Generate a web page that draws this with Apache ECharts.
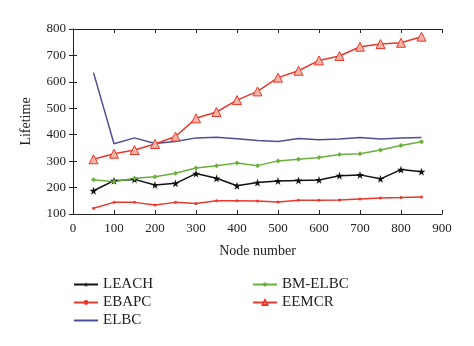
<!DOCTYPE html>
<html>
<head>
<meta charset="utf-8">
<script src="https://cdn.jsdelivr.net/npm/echarts@6/dist/echarts.min.js"></script>
<style>
  html, body { margin: 0; padding: 0; background: #fff; }
  #chart { width: 474px; height: 346px; }
</style>
</head>
<body>
<div id="chart"></div>
<script>
// node counts on the x axis
const nodes = [50, 100, 150, 200, 250, 300, 350, 400, 450, 500, 550, 600, 650, 700, 750, 800, 850];

// lifetime values
const leach  = [188, 226, 231, 210, 216, 253, 235, 207, 219, 225, 227, 229, 245, 248, 233, 268, 260];
const ebapc  = [122, 144, 144, 134, 144, 140, 150, 150, 149, 145, 152, 152, 153, 157, 161, 162, 164];
const elbc   = [635, 366, 388, 367, 374, 388, 390, 385, 378, 374, 386, 381, 384, 389, 384, 388, 389];
const bmElbc = [230, 222, 235, 241, 254, 274, 283, 293, 283, 301, 307, 314, 325, 328, 342, 359, 373];
const eemcr  = [307, 328, 342, 365, 393, 462, 486, 531, 564, 616, 642, 681, 698, 733, 743, 748, 771];

const FONT = 'Liberation Serif';
const star = 'path://M50,0 L61,35 L98,35 L68,57 L79,91 L50,70 L21,91 L32,57 L2,35 L39,35 Z';

const pairs = vals => nodes.map((n, i) => [n, vals[i]]);

const chart = echarts.init(document.getElementById('chart'));

const boxAxis = {
  axisLine: { show: true, lineStyle: { color: '#222', width: 1 } },
  axisTick: { show: true, inside: true, length: 4, lineStyle: { color: '#222' } },
  splitLine: { show: false }
};

const legendBase = {
  orient: 'vertical',
  top: 272,
  itemWidth: 24, itemHeight: 6, itemGap: 3,
  textStyle: { fontFamily: FONT, fontSize: 15, color: '#222' }
};

const option = {
  animation: false,
  grid: { left: 73, top: 29, right: 32, bottom: 132 },
  legend: [
    Object.assign({
      left: 68,
      data: ['LEACH', 'EBAPC', { name: 'ELBC', itemStyle: { opacity: 0 } }]
    }, legendBase),
    Object.assign({
      left: 247,
      data: ['BM-ELBC', 'EEMCR']
    }, legendBase)
  ],
  xAxis: [
    Object.assign({
      type: 'value', min: 0, max: 900, interval: 100,
      name: 'Node number', nameLocation: 'middle', nameGap: 30,
      nameTextStyle: { fontFamily: FONT, fontSize: 14, color: '#222' },
      axisLabel: { fontFamily: FONT, fontSize: 13, color: '#222', margin: 8 }
    }, boxAxis),
    Object.assign({
      type: 'value', min: 0, max: 900, interval: 100, position: 'top',
      axisLabel: { show: false }
    }, boxAxis)
  ],
  yAxis: [
    Object.assign({
      type: 'value', min: 100, max: 800, interval: 100,
      name: 'Lifetime', nameLocation: 'middle', nameGap: 40,
      nameTextStyle: { fontFamily: FONT, fontSize: 14, color: '#222' },
      axisLabel: { fontFamily: FONT, fontSize: 13, color: '#222', margin: 7 }
    }, boxAxis),
    Object.assign({
      type: 'value', min: 100, max: 800, interval: 100, position: 'right',
      axisLabel: { show: false }
    }, boxAxis)
  ],
  series: [
    {
      name: 'LEACH', type: 'line', data: pairs(leach),
      symbol: star, symbolSize: 8,
      lineStyle: { color: '#111', width: 1.5 },
      itemStyle: { color: '#111' }
    },
    {
      name: 'EBAPC', type: 'line', data: pairs(ebapc),
      symbol: 'circle', symbolSize: 3,
      lineStyle: { color: '#e8382c', width: 1.5 },
      itemStyle: { color: '#e8382c' }
    },
    {
      name: 'ELBC', type: 'line', data: pairs(elbc),
      showSymbol: false, symbol: 'none',
      lineStyle: { color: '#4b5096', width: 1.5 },
      itemStyle: { color: '#4b5096' }
    },
    {
      name: 'BM-ELBC', type: 'line', data: pairs(bmElbc),
      symbol: 'diamond', symbolSize: 5,
      lineStyle: { color: '#6ab13c', width: 1.5 },
      itemStyle: { color: '#6ab13c' }
    },
    {
      name: 'EEMCR', type: 'line', data: pairs(eemcr),
      symbol: 'triangle', symbolSize: 9,
      lineStyle: { color: '#e8382c', width: 1.5 },
      itemStyle: { color: '#f6b4a6', borderColor: '#e8382c', borderWidth: 1 }
    }
  ]
};

chart.setOption(option);
window.addEventListener('resize', function () {
  chart.resize();
});
</script>
</body>
</html>
